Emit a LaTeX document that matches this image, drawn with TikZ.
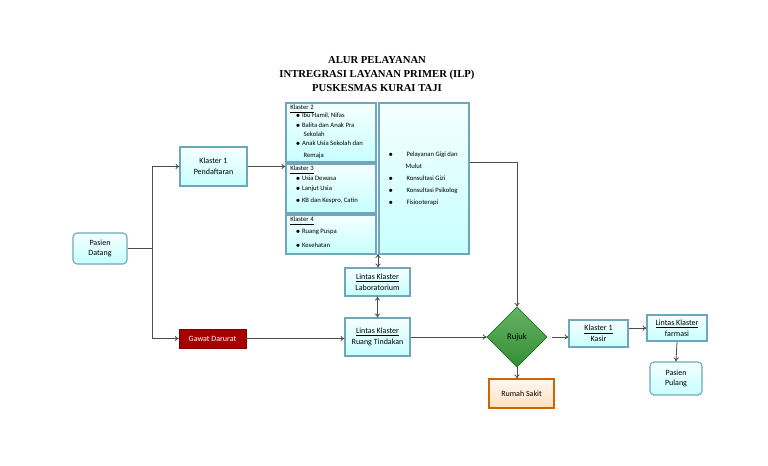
\documentclass[tikz,border=0pt]{standalone}
\usepackage{fontspec}
\setmainfont{Carlito}
\newfontfamily\titlefont{Liberation Serif}
\usetikzlibrary{shapes.geometric,arrows.meta}
\begin{document}
\begin{tikzpicture}[x=0.75pt,y=-0.75pt,
  bx/.style={draw=cyan!60!black!70,line width=0.8pt,top color=cyan!4,bottom color=cyan!22,font=\fontsize{6}{8}\selectfont,align=center,inner sep=1pt},
  rbx/.style={bx,rounded corners=3pt},
  ln/.style={draw=black!70,line width=0.6pt},
  ar/.style={ln,-{To[length=3pt,width=4pt]}},
  dar/.style={ln,{To[length=3pt,width=4pt]}-{To[length=3pt,width=4pt]}},
  lst/.style={font=\fontsize{5}{7}\selectfont,align=left,anchor=north west,inner sep=0pt}]
\useasboundingbox (0,0) rectangle (768,466);
\node[font=\titlefont\bfseries\fontsize{8}{10.5}\selectfont,align=center] (title) at (377,74) {ALUR PELAYANAN\\INTREGRASI LAYANAN PRIMER (ILP)\\PUSKESMAS KURAI TAJI};
\node[rbx,minimum width=54*0.75pt,minimum height=31*0.75pt] (pd) at (100,248.5) {Pasien\\Datang};
\node[bx,minimum width=67*0.75pt,minimum height=39*0.75pt] (k1) at (213.5,166.5) {Klaster 1\\Pendaftaran};
\node[bx,minimum width=90*0.75pt,minimum height=59*0.75pt] (k2) at (331,132.5) {};
\node[bx,minimum width=90*0.75pt,minimum height=49*0.75pt] (k3) at (331,188.5) {};
\node[bx,minimum width=90*0.75pt,minimum height=39*0.75pt] (k4) at (331,234.5) {};
\node[bx,minimum width=90*0.75pt,minimum height=151*0.75pt] (kr) at (424,178.5) {};
\node[lst] (k2t) at (290,105) {\underline{Klaster 2}\\[-1pt]
 \hspace*{4pt}$\bullet$ Ibu Hamil, Nifas\\
 \hspace*{4pt}$\bullet$ Balita dan Anak Pra\\ \hspace*{10pt}Sekolah\\
 \hspace*{4pt}$\bullet$ Anak Usia Sekolah dan\\[2pt] \hspace*{10pt}Remaja};
\node[lst] (k3t) at (290,166) {\underline{Klaster 3}\\
 \hspace*{4pt}$\bullet$ Usia Dewasa\\[1pt]
 \hspace*{4pt}$\bullet$ Lanjut Usia\\[2pt]
 \hspace*{4pt}$\bullet$ KB dan Kespro, Catin};
\begin{scope}
\clip (287,216) rectangle (375,253);
\node[lst] (k4t) at (290,217) {\underline{Klaster 4}\\[2pt]
 \hspace*{4pt}$\bullet$ Ruang Puspa\\[3pt]
 \hspace*{4pt}$\bullet$ Kesehatan\\[3pt] \hspace*{10pt}Jiwa};
\end{scope}
\node[lst] (krt) at (388,152) {$\bullet$\hspace{10pt}Pelayanan Gigi dan\\[2pt] \hspace*{13pt}Mulut\\[2pt]
 $\bullet$\hspace{10pt}Konsultasi Gizi\\[2pt]
 $\bullet$\hspace{10pt}Konsultasi Psikolog\\[2pt]
 $\bullet$\hspace{10pt}Fisiooterapi};
\node[bx,minimum width=65*0.75pt,minimum height=28*0.75pt] (lab) at (377.5,282) {\underline{Lintas Klaster}\\Laboratorium};
\node[draw=red!50!black,fill=red!65!black,text=white,font=\fontsize{6}{8}\selectfont,minimum width=67*0.75pt,minimum height=19*0.75pt,inner sep=1pt] (gd) at (212.5,338.5) {Gawat Darurat};
\node[bx,minimum width=65*0.75pt,minimum height=38*0.75pt] (rt) at (377.5,337) {\underline{Lintas Klaster}\\Ruang Tindakan};
\node[diamond,draw=green!40!black,top color=green!50!black!60,bottom color=green!45!black!80,font=\fontsize{6.5}{8}\selectfont,minimum width=60*0.75pt,minimum height=60*0.75pt,inner sep=0pt] (rj) at (517,337) {Rujuk};
\node[draw=orange!80!black,line width=0.8pt,top color=orange!5,bottom color=orange!25,font=\fontsize{6}{8}\selectfont,minimum width=65*0.75pt,minimum height=29*0.75pt] (rs) at (521.5,393.5) {Rumah Sakit};
\node[bx,minimum width=59*0.75pt,minimum height=27*0.75pt] (ks) at (598.5,333.5) {\underline{Klaster 1}\\Kasir};
\node[bx,minimum width=60*0.75pt,minimum height=26*0.75pt] (fm) at (677,328) {\underline{Lintas Klaster}\\farmasi};
\node[rbx,minimum width=52*0.75pt,minimum height=33*0.75pt] (pp) at (676,378.5) {Pasien\\Pulang};
\coordinate (j) at (152,248.5);
\draw[ln] (pd.east) -- (j);
\draw[ar] (j) |- (k1.west);
\draw[ar] (j) |- (gd.west);
\draw[ar] (k1.east) -- (k2.west |- k1.east);
\draw[ar] (gd.east) -- (rt.west |- gd.east);
\draw[ar] (rt.east |- rj.west) -- (rj.west);
\draw[ar] (kr.east |- 0,162) -| (rj.north);
\draw[dar] (378,254) -- (lab.north -| 378,0);
\draw[dar] (lab.south) -- (rt.north);
\draw[ar] (rj.south) -- (rs.north -| rj.south);
\draw[ar] (rj.east) ++(5,0) -- (ks.west |- rj.east);
\draw[ar] (ks.east |- fm.west) ++(0,0) -- (fm.west);
\draw[ar] (fm.south) -- (pp.north);
\end{tikzpicture}
\end{document}
